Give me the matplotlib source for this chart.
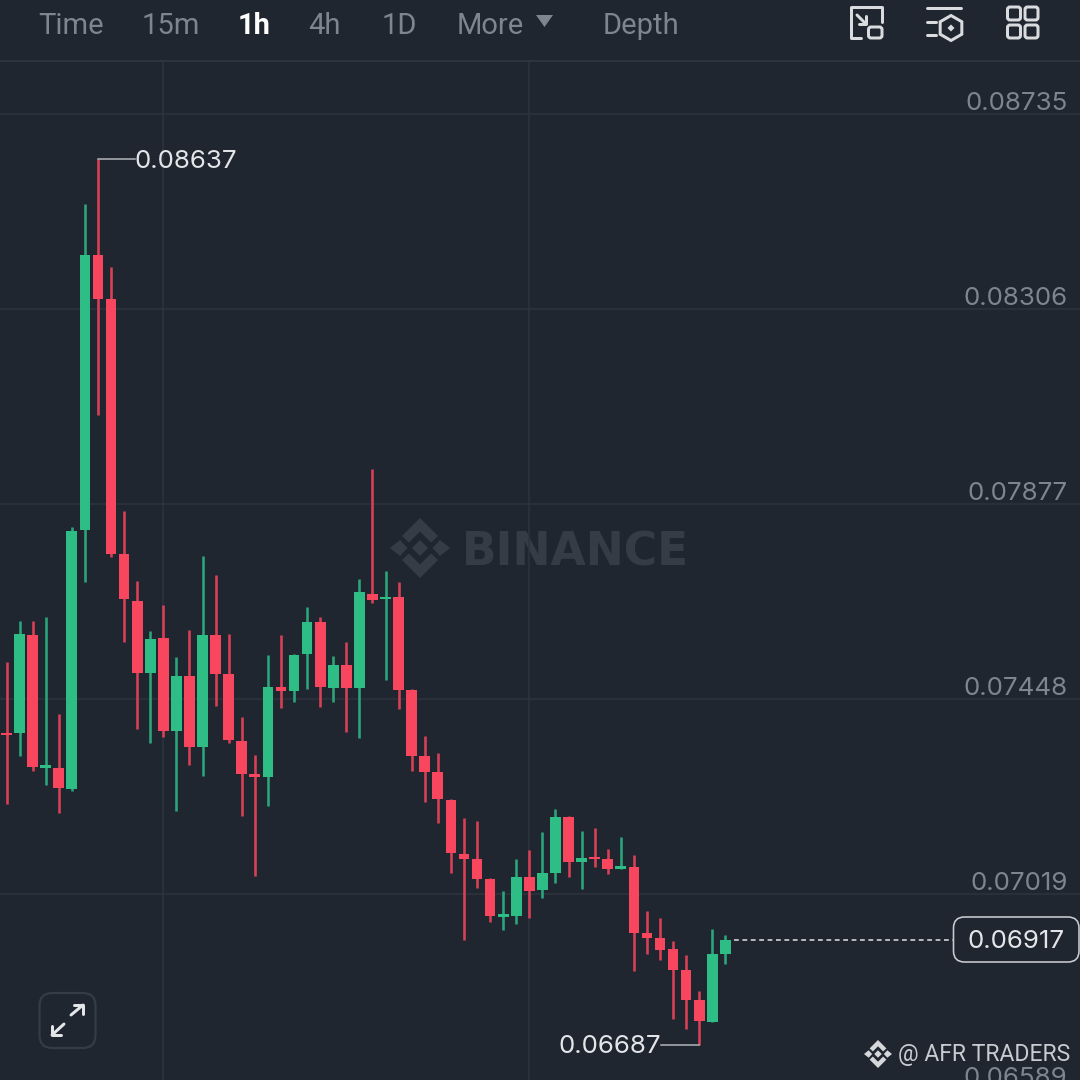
import matplotlib
matplotlib.use("Agg")
import matplotlib.pyplot as plt
import numpy as np
from matplotlib.patches import FancyBboxPatch, Polygon, Rectangle
from matplotlib.transforms import blended_transform_factory

# Prices in units of 0.00001
opens = [7374,7374,7588,7297,7296,7251,7820,8424,8328,7766,7664,7506,7582,7378,7499,7342,7589,7502,7356,7282,
         7277,7475,7466,7546,7618,7473,7523,7473,7680,7667,7673,7468,7323,7288,7226,7108,7095,7051,6969,6970,
         7056,7027,7066,7189,7089,7100,7095,7074,7078,6933,6922,6897,6852,6786,6738,6888]
closes = [7369,7591,7298,7302,7252,7818,8425,8328,7766,7667,7505,7580,7377,7499,7342,7589,7502,7357,7283,7276,
          7474,7466,7545,7617,7474,7523,7473,7683,7666,7672,7468,7323,7288,7227,7110,7096,7053,6971,6974,7056,
          7026,7065,7189,7089,7099,7095,7073,7080,6933,6923,6896,6852,6786,6739,6887,6917]
highs = [7530,7620,7620,7628,7415,7826,8536,8637,8398,7862,7707,7598,7654,7541,7600,7763,7721,7592,7408,7324,
         7544,7589,7547,7651,7628,7542,7574,7711,7953,7729,7705,7471,7367,7329,7228,7187,7179,7054,7025,7097,
         7116,7156,7207,7191,7158,7165,7117,7144,7104,6982,6966,6916,6885,6806,6941,6929]
lows = [7218,7323,7290,7259,7198,7246,7705,8072,7761,7574,7381,7351,7365,7202,7303,7279,7432,7352,7191,7059,
        7213,7429,7441,7470,7431,7442,7376,7363,7659,7490,7427,7290,7221,7176,7065,6917,7033,6957,6940,6954,
        6967,7011,7043,7057,7029,7078,7062,7074,6850,6888,6874,6745,6723,6687,6738,6866]
axis_ticks = [0.08735, 0.08306, 0.07877, 0.07448, 0.07019, 0.06589]
grid_candles = [12, 40]
high_label, low_label, last_price = "0.08637", "0.06687", 0.06917
high_index, low_index, last_index = 7, 53, 55
periods = ["Time", "15m", "1h", "4h", "1D", "More", "Depth"]

BG = "#1F2630"; GRID = "#2E343E"; GREEN = "#2EBD85"; RED = "#F9465F"
GREEN_W = "#2BA57C"; RED_W = "#D93F56"
AXT = "#7F858E"; LIGHT = "#E3E5E8"; MARK = "#363C46"
NUM = 18.7
plt.rcParams["font.family"] = ["Inter", "DejaVu Sans"]

fig = plt.figure(figsize=(10.8, 10.8), dpi=100, facecolor=BG)
def layer(z):
    a = fig.add_axes([0, 0, 1, 1], zorder=z)
    a.patch.set_alpha(0)
    return a
back = layer(0); ax = layer(1); ui = layer(2)
PT = 72 / 100  # points per pixel
for a in (back, ui):
    a.set_xlim(0, 1080); a.set_ylim(1080, 0); a.axis("off")

# ---- logo
def logo(a, cx, cy, r, color, **kw):
    s = r / 30.0
    shapes = [
        [(0, -8), (8, 0), (0, 8), (-8, 0)],
        [(-30, 0), (-20, -8), (-12.5, 0), (-20, 8)],
        [(30, 0), (20, -8), (12.5, 0), (20, 8)],
        [(0, -30), (18, -12), (11, -5.5), (0, -16.5), (-11, -5.5), (-18, -12)],
        [(0, 30), (18, 12), (11, 5.5), (0, 16.5), (-11, 5.5), (-18, 12)],
    ]
    for sh in shapes:
        a.add_patch(Polygon([(cx + x * s, cy + y * s) for x, y in sh], closed=True,
                            fc=color, ec="none", **kw))

logo(back, 420, 548, 30, MARK)
back.text(462, 553, "BINANCE", color=MARK, fontsize=32.8, fontweight="bold", va="center", ha="left",
          fontfamily="DejaVu Sans")

# ---- chart
idx = np.arange(len(opens))
PX_PER_CANDLE = 13.07
for s in ax.spines.values():
    s.set_visible(False)
ax.set_xticks(grid_candles); ax.set_yticks(axis_ticks)
ax.set_xlim(-6.5 / PX_PER_CANDLE, (1080 - 6.5) / PX_PER_CANDLE)
ax.set_ylim(0.066098, 0.089858)
ax.tick_params(length=0, labelbottom=False, labelleft=False)
ax.grid(True, color=GRID, lw=1.5 * PT)
ax.set_axisbelow(True)

o = np.array(opens) / 1e5; c = np.array(closes) / 1e5
h = np.array(highs) / 1e5; l = np.array(lows) / 1e5
up = c >= o
ax.vlines(idx[up], l[up], h[up], color=GREEN_W, lw=2.6 * PT, zorder=2)
ax.vlines(idx[~up], l[~up], h[~up], color=RED_W, lw=2.6 * PT, zorder=2)
bottoms = np.minimum(o, c); heights = np.abs(c - o)
ax.bar(idx, heights, bottom=bottoms, width=0.82,
       color=[GREEN if u else RED for u in up], linewidth=0, zorder=3)

# axis labels
tr = blended_transform_factory(fig.transFigure, ax.transData)
for t in axis_ticks:
    ax.annotate(f"{t:.5f}", xy=(1067.5 / 1080, t), xycoords=tr, xytext=(0, 10.5 * PT),
                textcoords="offset points", ha="right", va="center", color=AXT, fontsize=NUM, zorder=4,
                annotation_clip=False)

# high / low / last
ax.annotate(high_label, xy=(high_index, highs[high_index] / 1e5), xytext=(37 * PT, -2.5 * PT),
            textcoords="offset points", ha="left", va="center", color=LIGHT, fontsize=NUM)
ax.plot([high_index, high_index + 37 / PX_PER_CANDLE], [highs[high_index] / 1e5] * 2,
        color="#B5B9BE", lw=1.5 * PT, zorder=2)
ax.annotate(low_label, xy=(low_index, lows[low_index] / 1e5), xytext=(-38 * PT, -2 * PT),
            textcoords="offset points", ha="right", va="center", color=LIGHT, fontsize=NUM)
ax.plot([low_index - 38 / PX_PER_CANDLE, low_index], [lows[low_index] / 1e5] * 2,
        color="#B5B9BE", lw=1.5 * PT, zorder=2)
ax.plot([last_index + 0.7, (953 - 6.5) / PX_PER_CANDLE], [last_price, last_price],
        color=LIGHT, lw=1.5 * PT, dashes=(3.2, 2.4), zorder=2)

# ---- UI layer
ui.add_patch(Rectangle((0, 0), 1080, 60, fc=BG, ec="none"))
ui.plot([0, 1080], [60.5, 60.5], color=GRID, lw=2 * PT)
xs = [38, 142, 238, 308, 382, 457, 603]
for name, x in zip(periods, xs):
    active = name == "1h"
    ui.text(x, 26, name, color="#FFFFFF" if active else AXT, fontsize=21,
            fontweight="semibold" if active else "normal", va="center", ha="left",
            fontfamily=["Roboto", "DejaVu Sans"])
ui.add_patch(Polygon([(536, 15), (553, 15), (544.5, 27)], fc=AXT, ec="none"))

IC = "#D9DBDE"; LW = 3 * PT
def ln(pts, color=IC, lw=LW):
    ui.plot(*zip(*pts), color=color, lw=lw, solid_capstyle="round", solid_joinstyle="round")
def box(x, y, w, hh, r=2.5, color=IC, lw=LW, fc="none"):
    ui.add_patch(FancyBboxPatch((x + r, y + r), w - 2 * r, hh - 2 * r,
                                boxstyle=f"round,pad={r},rounding_size={r}", fc=fc, ec=color, lw=lw))
# icon 1
ln([(861, 38), (851, 38), (851, 7), (882, 7), (882, 22)])
box(868.5, 27, 13.5, 11)
ln([(857, 15), (866, 24)]); ln([(858.5, 24), (866, 24), (866, 16)])
# icon 2
ln([(927, 8), (961, 8)]); ln([(927, 22), (936, 22)]); ln([(927, 35), (936, 35)])
ui.add_patch(Polygon([(951 + 12.5 * np.sin(a_), 28 + 12.5 * np.cos(a_)) for a_ in np.deg2rad(np.arange(0, 360, 60))],
                     closed=True, fc="none", ec=IC, lw=LW))
ui.add_patch(Polygon([(951, 24.5), (954.5, 28), (951, 31.5), (947.5, 28)], fc=IC, ec="none"))
# icon 3
for x in (1007.5, 1025):
    for y in (7, 25):
        box(x, y, 13, 13)

# fullscreen button
box(39.5, 993, 56, 55, r=13, color=MARK, lw=2.2 * PT)
ln([(71, 1015), (83, 1005)], color=LIGHT)
ln([(74, 1005), (83, 1005), (83, 1014)], color=LIGHT)
ln([(64, 1024), (52, 1035)], color=LIGHT)
ln([(52, 1026), (52, 1035), (61, 1035)], color=LIGHT)

# last price box
box(953.5, 917, 125.5, 45, r=11, color="#C9CCD0", lw=1.6 * PT, fc=BG)
ui.text(1016.5, 942, "0.06917", color=LIGHT, fontsize=NUM, ha="center", va="center")

# credit
logo(ui, 878, 1054, 14, "#D5D7DA")
ui.text(898, 1055, "@ AFR TRADERS", color="#C8CBD0", fontsize=16.6, ha="left", va="center",
        fontfamily=["Roboto", "DejaVu Sans"])

fig.savefig("out.png", dpi=100, facecolor=BG)
